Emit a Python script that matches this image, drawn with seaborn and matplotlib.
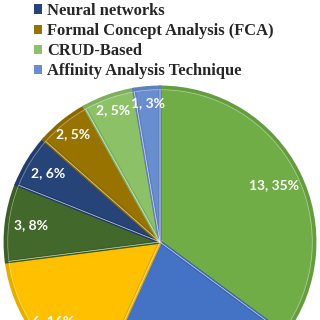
import matplotlib
matplotlib.use("Agg")
import matplotlib.pyplot as plt
import matplotlib.colors as mcolors
from matplotlib.patches import Patch
import numpy as np
import seaborn as sns

sns.set_theme(style="white")

# ---- data (clockwise from 12 o'clock) ----
slice_names = ["Green group", "Blue group", "Gold group", "Dark green group",
               "Neural networks", "Formal Concept Analysis (FCA)", "CRUD-Based",
               "Affinity Analysis Technique"]
slice_counts = [13, 8, 6, 3, 2, 2, 2, 1]
slice_labels = ["13, 35%", "8, 22%", "6, 16%", "3, 8%", "2, 6%", "2, 5%", "2, 5%", "1, 3%"]
slice_colors = ["#70AD47", "#4472C4", "#FFC000", "#43682B", "#264478", "#997300",
                "#8CC168", "#698ED0"]
label_r = [0.81, 0.80, 0.85, 0.83, 0.84, 0.88, 0.89, 0.89]
legend_names = ["Neural networks", "Formal Concept Analysis (FCA)", "CRUD-Based",
                "Affinity Analysis Technique"]

fig = plt.figure(figsize=(3.2, 3.2), dpi=100)
ax = fig.add_axes([0, 0, 1, 1])
R = 157.0


def shade(c, f):
    r, g, b = mcolors.to_rgb(c)
    return (r * f, g * f, b * f)


edge_cols = [shade(c, 0.9) for c in slice_colors]
wedges, _ = ax.pie(slice_counts, colors=slice_colors, startangle=90, counterclock=False,
                   radius=0.985, wedgeprops=dict(linewidth=2.6, edgecolor="none"))
for w, ec in zip(wedges, edge_cols):
    w.set_edgecolor(ec)
# thin light separators
sep, _ = ax.pie(slice_counts, colors=["none"] * len(slice_counts), startangle=90,
                counterclock=False, radius=0.97,
                wedgeprops=dict(linewidth=0.5, edgecolor=(1, 1, 1, 0.45), fill=False))

for w, lab, r in zip(wedges, slice_labels, label_r):
    mid = np.deg2rad((w.theta1 + w.theta2) / 2)
    ax.text(r * np.cos(mid), r * np.sin(mid), lab, ha="center", va="center",
            color="white", fontsize=10, fontweight="bold", family="Lato")

ax.set_xlim(-160 / R, 160 / R)
ax.set_ylim(-78 / R, 242 / R)
ax.set_aspect("equal")
ax.axis("off")

handles = [Patch(facecolor=slice_colors[slice_names.index(n)], edgecolor="none")
           for n in legend_names]
leg = fig.legend(handles, legend_names, loc="upper left", bbox_to_anchor=(34 / 320, 1 - 3 / 320),
                 frameon=False, prop=dict(family="Liberation Serif", weight="bold", size=11.9),
                 handlelength=0.5, handleheight=0.5, handletextpad=0.3,
                 labelspacing=0.25, borderpad=0, borderaxespad=0)
for t in leg.get_texts():
    t.set_color("#262626")

fig.savefig("out.png", dpi=100)
